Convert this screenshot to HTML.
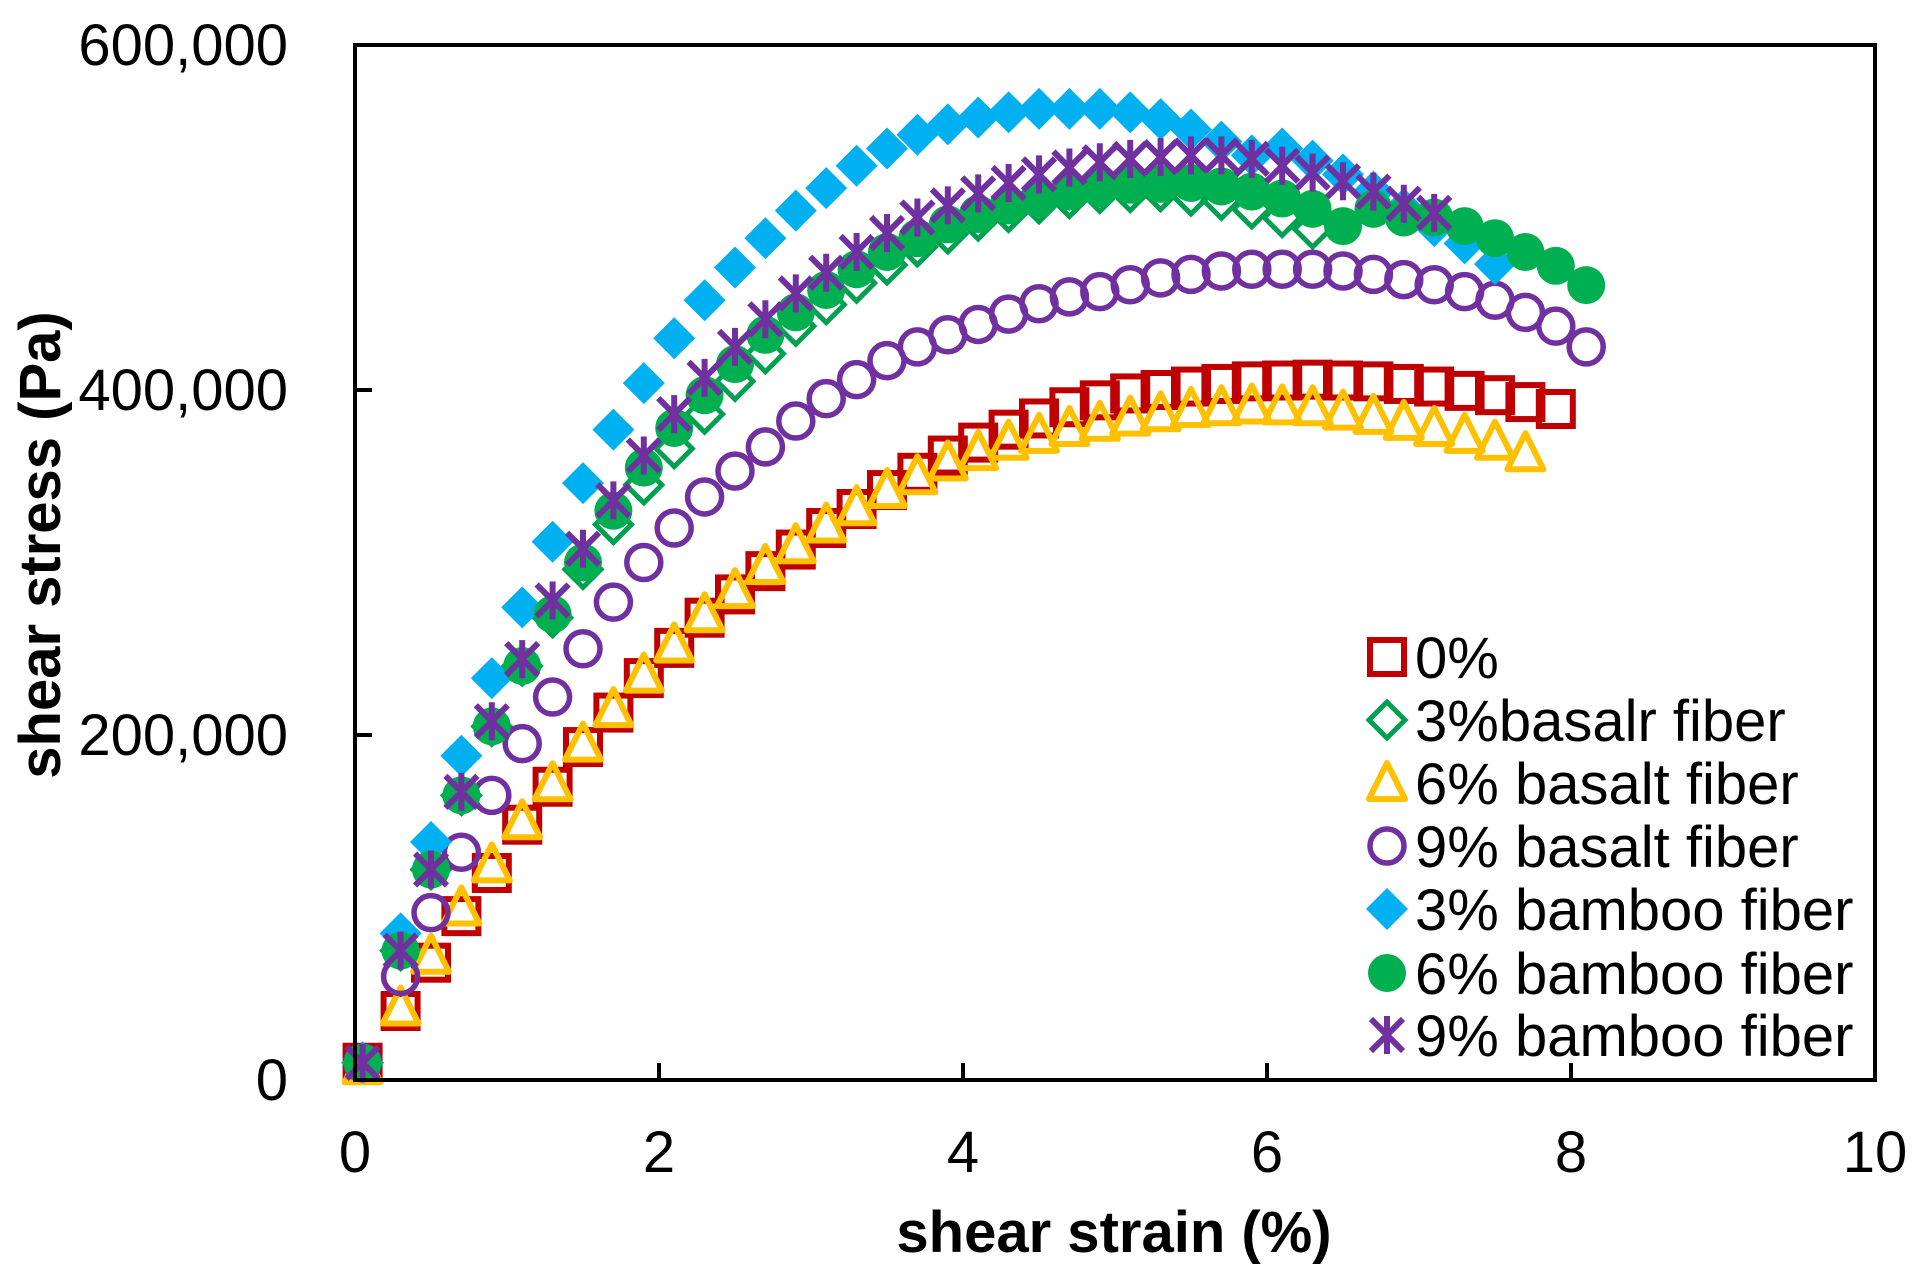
<!DOCTYPE html>
<html><head><meta charset="utf-8"><style>
html,body{margin:0;padding:0;background:#fff;}
svg text{font-family:"Liberation Sans",Arial,sans-serif;}
</style></head><body>
<svg id="s" width="1919" height="1275" xmlns="http://www.w3.org/2000/svg">
<rect x="0" y="0" width="1919" height="1275" fill="#fff"/>
<g id="data"></g>
<rect x="355" y="45" width="1520" height="1035" fill="none" stroke="#000" stroke-width="4"/>
<g stroke="#000" stroke-width="4">
<line x1="659" y1="1080" x2="659" y2="1063"/><line x1="963" y1="1080" x2="963" y2="1063"/>
<line x1="1267" y1="1080" x2="1267" y2="1063"/><line x1="1571" y1="1080" x2="1571" y2="1063"/>
<line x1="355" y1="735" x2="372" y2="735"/><line x1="355" y1="390" x2="372" y2="390"/>
</g>
<g font-size="58" text-anchor="end" fill="#000">
<text x="288" y="1100">0</text><text x="288" y="755">200,000</text>
<text x="288" y="410">400,000</text><text x="288" y="65">600,000</text>
</g>
<g font-size="58" text-anchor="middle" fill="#000">
<text x="355" y="1172">0</text><text x="659" y="1172">2</text><text x="963" y="1172">4</text>
<text x="1267" y="1172">6</text><text x="1571" y="1172">8</text><text x="1875" y="1172">10</text>
</g>
<text x="1114" y="1252" font-size="58" font-weight="bold" text-anchor="middle">shear strain (%)</text>
<text transform="translate(60,545) rotate(-90)" font-size="58" font-weight="bold" text-anchor="middle">shear stress (Pa)</text>
<g id="leg" font-size="58" fill="#000"></g>
</svg>
<script>
var NS="http://www.w3.org/2000/svg";
function X(v){return 355+v*152;}
function Y(v){return 1080-v*1035/600000;}
function el(t,a,p){var e=document.createElementNS(NS,t);for(var k in a)e.setAttribute(k,a[k]);p.appendChild(e);return e;}
function interp(kp,x){for(var i=0;i<kp.length-1;i++){if(x<=kp[i+1][0]){var t=(x-kp[i][0])/(kp[i+1][0]-kp[i][0]);return kp[i][1]+t*(kp[i+1][1]-kp[i][1]);}}return kp[kp.length-1][1];}
function xs(end){var a=[0.05];for(var x=0.3;x<=end+0.001;x+=0.2)a.push(x);return a;}
function mark(type,col,cx,cy,p){
 if(type=="sq")el("rect",{x:cx-17,y:cy-17,width:34,height:34,fill:"none",stroke:col,"stroke-width":6},p);
 else if(type=="od")el("polygon",{points:(cx)+","+(cy-18)+" "+(cx+18)+","+cy+" "+cx+","+(cy+18)+" "+(cx-18)+","+cy,fill:"none",stroke:col,"stroke-width":5},p);
 else if(type=="tr")el("polygon",{points:cx+","+(cy-20)+" "+(cx+18)+","+(cy+16)+" "+(cx-18)+","+(cy+16),fill:"none",stroke:col,"stroke-width":6,"stroke-linejoin":"round"},p);
 else if(type=="oc")el("circle",{cx:cx,cy:cy,r:17,fill:"none",stroke:col,"stroke-width":5.5},p);
 else if(type=="fd")el("polygon",{points:cx+","+(cy-21)+" "+(cx+21)+","+cy+" "+cx+","+(cy+21)+" "+(cx-21)+","+cy,fill:col},p);
 else if(type=="fc")el("circle",{cx:cx,cy:cy,r:19,fill:col},p);
 else if(type=="as"){var g=el("g",{stroke:col,"stroke-width":6},p);
  el("line",{x1:cx-16,y1:cy-16,x2:cx+16,y2:cy+16},g);el("line",{x1:cx-16,y1:cy+16,x2:cx+16,y2:cy-16},g);el("line",{x1:cx,y1:cy-19,x2:cx,y2:cy+19},g);}
}
var S=[
 {t:"sq",c:"#C00000",end:7.95,kp:[[0,0],[0.05,10000],[0.3,40000],[0.5,68000],[0.7,95000],[0.9,120000],[1.1,148000],[1.3,170000],[1.5,193000],[1.9,233000],[2.3,268000],[2.7,295000],[3.1,320000],[3.5,342000],[3.9,362000],[4.3,377000],[4.7,390000],[5.1,398000],[5.5,402000],[5.9,405000],[6.3,406000],[6.7,405000],[7.1,402000],[7.5,397000],[7.95,388000]]},
 {t:"od",c:"#00A050",end:6.4,kp:[[0,0],[0.05,10000],[0.3,75000],[0.5,122000],[0.7,165000],[0.9,205000],[1.1,240000],[1.3,268000],[1.5,296000],[1.7,322000],[1.9,345000],[2.1,366000],[2.3,386000],[2.5,405000],[2.9,437000],[3.3,462000],[3.7,483000],[4.1,498000],[4.5,508000],[4.9,514000],[5.3,515000],[5.7,510000],[6.1,500000],[6.4,490000]]},
 {t:"tr",c:"#FFC000",end:7.8,kp:[[0,0],[0.05,8000],[0.3,42000],[0.5,72000],[0.7,100000],[0.9,125000],[1.1,150000],[1.3,172000],[1.5,195000],[1.9,235000],[2.3,270000],[2.7,298000],[3.1,322000],[3.5,342000],[3.9,358000],[4.3,370000],[4.7,378000],[5.1,384000],[5.5,389000],[5.9,391000],[6.3,390000],[6.7,385000],[7.1,378000],[7.5,370000],[7.8,360000]]},
 {t:"oc",c:"#7030A0",end:8.1,kp:[[0,0],[0.05,10000],[0.3,60000],[0.5,97000],[0.7,132000],[0.9,165000],[1.1,195000],[1.3,222000],[1.5,250000],[1.7,277000],[1.9,300000],[2.1,320000],[2.3,338000],[2.5,353000],[2.7,367000],[2.9,382000],[3.1,395000],[3.3,406000],[3.5,417000],[3.7,425000],[3.9,432000],[4.1,438000],[4.3,444000],[4.5,450000],[4.7,454000],[4.9,457000],[5.1,461000],[5.3,465000],[5.5,467000],[5.7,469000],[5.9,470000],[6.3,470000],[6.5,469000],[6.7,467000],[6.9,464000],[7.1,461000],[7.3,457000],[7.5,452000],[7.7,445000],[7.9,437000],[8.1,425000]]},
 {t:"fd",c:"#00B0F0",end:7.55,kp:[[0,0],[0.05,10000],[0.3,85000],[0.5,138000],[0.7,188000],[0.9,233000],[1.1,274000],[1.3,312000],[1.5,346000],[1.7,377000],[1.9,404000],[2.1,430000],[2.3,452000],[2.5,471000],[2.7,488000],[2.9,504000],[3.1,517000],[3.3,530000],[3.5,540000],[3.7,548000],[3.9,554000],[4.1,558000],[4.3,561000],[4.5,563000],[4.9,563000],[5.1,561000],[5.3,557000],[5.5,551000],[5.7,544000],[5.9,536000],[6.1,540000],[6.3,533000],[6.5,525000],[6.7,515000],[6.9,505000],[7.1,495000],[7.3,485000],[7.55,470000]]},
 {t:"fc",c:"#00B050",end:8.15,kp:[[0,0],[0.05,10000],[0.3,75000],[0.5,122000],[0.7,165000],[0.9,205000],[1.1,240000],[1.3,270000],[1.5,300000],[1.7,330000],[1.9,355000],[2.1,378000],[2.3,397000],[2.5,415000],[2.7,432000],[2.9,445000],[3.1,458000],[3.3,470000],[3.5,480000],[3.7,488000],[3.9,496000],[4.1,502000],[4.3,507000],[4.5,511000],[4.7,515000],[4.9,517000],[5.1,519000],[5.5,520000],[5.7,518000],[5.9,515000],[6.1,511000],[6.3,505000],[6.5,495000],[6.7,505000],[6.9,500000],[7.1,500000],[7.3,495000],[7.5,488000],[7.7,480000],[7.9,472000],[8.15,458000]]},
 {t:"as",c:"#7030A0",end:7.2,kp:[[0,0],[0.05,10000],[0.3,75000],[0.5,122000],[0.7,167000],[0.9,208000],[1.1,244000],[1.3,278000],[1.5,308000],[1.7,336000],[1.9,362000],[2.1,386000],[2.3,407000],[2.5,425000],[2.7,441000],[2.9,456000],[3.1,468000],[3.3,480000],[3.5,491000],[3.7,500000],[3.9,507000],[4.1,514000],[4.3,520000],[4.5,525000],[4.7,529000],[4.9,532000],[5.1,534000],[5.5,536000],[5.7,536000],[5.9,534000],[6.1,530000],[6.3,526000],[6.5,521000],[6.7,515000],[6.9,508000],[7.2,500000]]}
];
var D=document.getElementById("data");
S.forEach(function(s){xs(s.end).forEach(function(x){mark(s.t,s.c,X(x),Y(interp(s.kp,x)),D);});});
var L=document.getElementById("leg");
var names=["0%","3%basalr fiber","6% basalt fiber","9% basalt fiber","3% bamboo fiber","6% bamboo fiber","9% bamboo fiber"];
var ly=[657,720,783,846,909,973,1035];
S.forEach(function(s,i){mark(s.t,s.c,1387,ly[i],L);var t=el("text",{x:1415,y:ly[i]+21},L);t.textContent=names[i];});
</script>
</body></html>
